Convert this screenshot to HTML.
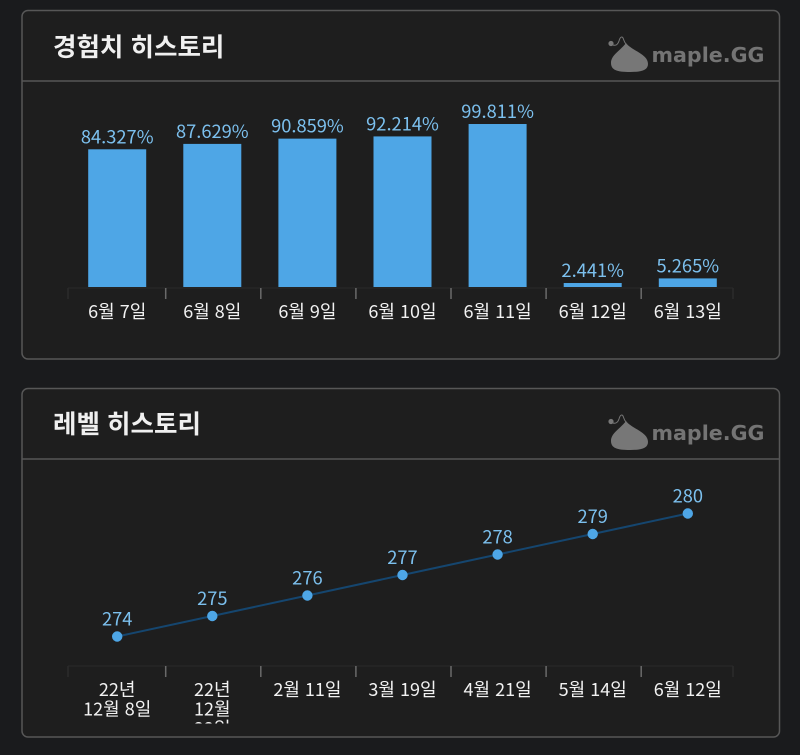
<!DOCTYPE html>
<html lang="ko">
<head>
<meta charset="utf-8">
<title>Maple.GG history</title>
<style>
html,body{margin:0;padding:0;background:#1a1b1d;width:800px;height:755px;overflow:hidden}
svg{display:block}
text{font-family:"Noto Sans CJK KR","Liberation Sans",sans-serif}
text.logo{font-family:"DejaVu Sans","Liberation Sans",sans-serif}
</style>
</head>
<body>
<svg id="root" width="800" height="755" viewBox="0 0 800 755" xmlns="http://www.w3.org/2000/svg">
  <defs>
    <clipPath id="tick-clip"><rect x="60" y="660" width="680" height="63.5"/></clipPath>
  </defs>
  <g id="card1">
    <rect x="22" y="10.5" width="757.5" height="348.5" rx="6" fill="#1e1e1e" stroke="#575757" stroke-width="1.5"/>
    <line x1="22" y1="81" x2="780" y2="81" stroke="#575757" stroke-width="1.5"/>
    <text x="53" y="56" font-size="25.5" font-weight="700" fill="#f0f0f0">경험치 히스토리</text>
    <g>
      <path d="M611 63C611 55 620 51 626 43C632 51 648 54 648 64C648 70 642 72 630 72C617 72 611 70 611 63z" fill="#777777"/>
      <circle cx="611" cy="43.5" r="2.6" fill="#777777"/>
      <path d="M613 45c3 1 5-1 6-4 1-4 3-5 4-3 1 2 1 4 3 6" fill="none" stroke="#777777" stroke-width="1"/>
      <text class="logo" x="651.5" y="62" font-size="20" font-weight="700" fill="#747474" textLength="113" lengthAdjust="spacingAndGlyphs">maple.GG</text>
    </g>
    <g id="bar-chart"></g>
  </g>
  <g id="card2">
    <rect x="22" y="388.5" width="757.5" height="348.5" rx="6" fill="#1e1e1e" stroke="#575757" stroke-width="1.5"/>
    <line x1="22" y1="459" x2="780" y2="459" stroke="#575757" stroke-width="1.5"/>
    <text x="53" y="433" font-size="25.5" font-weight="700" fill="#f0f0f0">레벨 히스토리</text>
    <g>
      <path d="M611 441C611 433 620 429 626 421C632 429 648 432 648 442C648 448 642 450 630 450C617 450 611 448 611 441z" fill="#777777"/>
      <circle cx="611" cy="421.5" r="2.6" fill="#777777"/>
      <path d="M613 423c3 1 5-1 6-4 1-4 3-5 4-3 1 2 1 4 3 6" fill="none" stroke="#777777" stroke-width="1"/>
      <text class="logo" x="651.5" y="440" font-size="20" font-weight="700" fill="#747474" textLength="113" lengthAdjust="spacingAndGlyphs">maple.GG</text>
    </g>
    <g id="line-chart"></g>
  </g>
</svg>
<script>
const expCategories = ["6월 7일","6월 8일","6월 9일","6월 10일","6월 11일","6월 12일","6월 13일"];
const expValues = [84.327,87.629,90.859,92.214,99.811,2.441,5.265];
const levelCategories = [["22년","12월 8일"],["22년","12월","22일"],["2월 11일"],["3월 19일"],["4월 21일"],["5월 14일"],["6월 12일"]];
const levelValues = [274,275,276,277,278,279,280];

const NS = "http://www.w3.org/2000/svg";
function mk(parent, tag, attrs, txt){
  const el = document.createElementNS(NS, tag);
  for (const k in attrs) el.setAttribute(k, attrs[k]);
  if (txt !== undefined) el.textContent = txt;
  parent.appendChild(el);
  return el;
}
const axisLeft = 68, axisRight = 733, bandW = 95.1;
function xCenter(i){ return 117.2 + bandW * i; }
function expY(v){ return 287 - v * 1.633; }
function levelY(v){ return 636.5 - (v - 274) * 20.5; }

function drawAxis(g, top){
  const base = mk(g, "line", {x1:axisLeft, y1:top, x2:axisRight, y2:top, stroke:"#2b2b2b", "stroke-width":1});
  
  
  for (let i = 0; i < 8; i++){
    const edge = i === 0 || i === 7;
    const x = i === 0 ? axisLeft : (i === 7 ? axisRight : xCenter(i - 1) + 48.5);
    const t = mk(g, "line", {x1:x, y1:top, x2:x, y2:top + 11, stroke: edge ? "#2b2b2b" : "#6a6a6a", "stroke-width":1.5});
    
    
  }
}

const barG = document.getElementById("bar-chart");
drawAxis(barG, 288);
expValues.forEach(function(v, i){
  const y = expY(v);
  const b = mk(barG, "rect", {x:xCenter(i) - 29, y:y, width:58, height:287 - y, fill:"#4ea6e6"});
  
  
  const lab = mk(barG, "text", {x:xCenter(i), y:y - 6, "font-size":18.3, fill:"#7cc0ee", "text-anchor":"middle"}, v.toFixed(3) + "%");
  
  
  const c = mk(barG, "text", {x:xCenter(i), y:318, "font-size":18, fill:"#f2f2f2", "text-anchor":"middle"}, expCategories[i]);
  
  
});

const lineG = document.getElementById("line-chart");
drawAxis(lineG, 666);
const pts = levelValues.map(function(v, i){ return xCenter(i) + "," + levelY(v); }).join(" ");
const poly = mk(lineG, "polyline", {points:pts, fill:"none", stroke:"#15466f", "stroke-width":2});


const tickG = mk(lineG, "g", {"clip-path":"url(#tick-clip)"});


levelValues.forEach(function(v, i){
  const y = levelY(v);
  const p = mk(lineG, "circle", {cx:xCenter(i), cy:y, r:5.2, fill:"#4ea6e6"});
  
  
  const lab = mk(lineG, "text", {x:xCenter(i), y:y - 11, "font-size":18.3, fill:"#7cc0ee", "text-anchor":"middle"}, String(v));
  
  
  levelCategories[i].forEach(function(line, j){
    const c = mk(tickG, "text", {x:xCenter(i), y:696 + j * 19.5, "font-size":18, fill:"#f2f2f2", "text-anchor":"middle"}, line);
    
    
  });
});
</script>
</body>
</html>
